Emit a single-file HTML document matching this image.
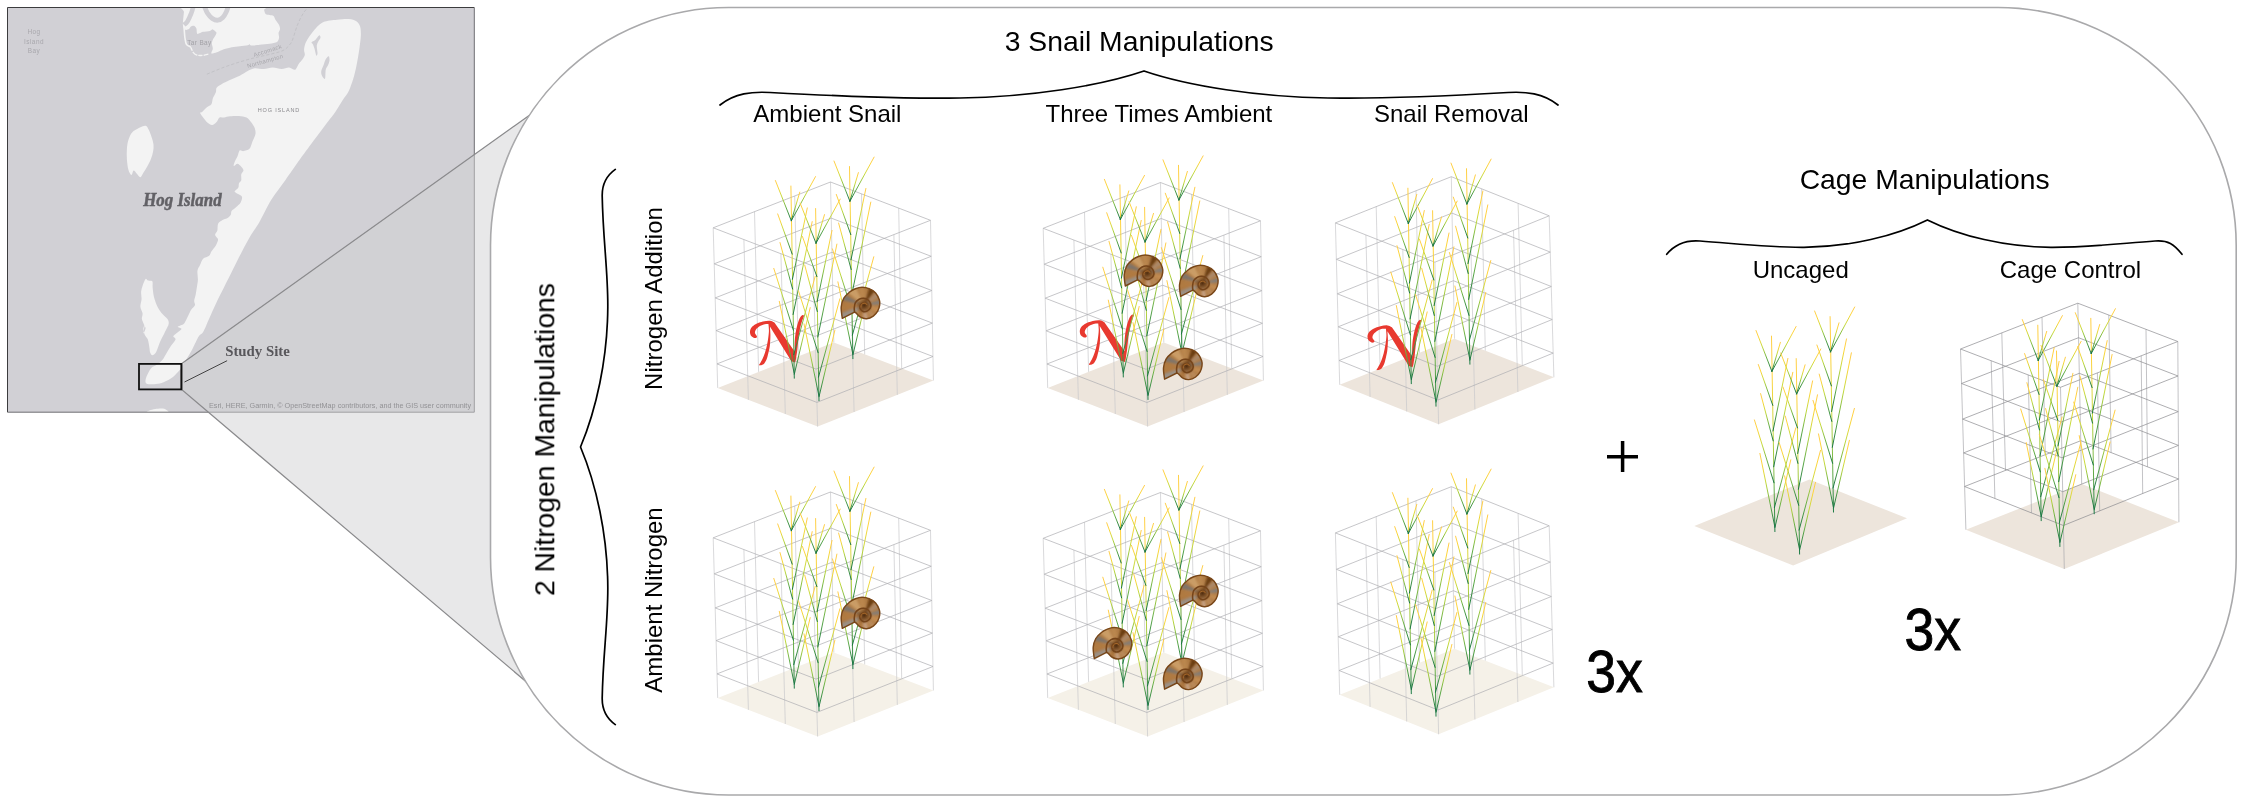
<!DOCTYPE html>
<html><head><meta charset="utf-8"><title>Experimental design</title>
<style>
html,body{margin:0;padding:0;background:#fff;}
body{width:2244px;height:803px;overflow:hidden;font-family:"Liberation Sans",sans-serif;}
svg{display:block;}
text{font-family:"Liberation Sans",sans-serif;fill:#000;}
.serif{font-family:"Liberation Serif",serif;}
</style></head><body>
<svg width="2244" height="803" viewBox="0 0 2244 803">
<defs>
<linearGradient id="gs" gradientUnits="userSpaceOnUse" x1="0" y1="0" x2="-3.4" y2="-195.5"><stop offset="0" stop-color="#1b7a45"/><stop offset="0.25" stop-color="#6fb347"/><stop offset="0.5" stop-color="#c4d83e"/><stop offset="0.8" stop-color="#ffd23d"/><stop offset="1" stop-color="#ffcf45"/></linearGradient>
<linearGradient id="gl0" gradientUnits="userSpaceOnUse" x1="-3" y1="-160.2" x2="-18.9" y2="-201.1"><stop offset="0" stop-color="#167343"/><stop offset="0.3" stop-color="#5fab46"/><stop offset="0.6" stop-color="#c3d93c"/><stop offset="0.85" stop-color="#ffd43a"/><stop offset="1" stop-color="#ffcc4a"/></linearGradient>
<linearGradient id="gl1" gradientUnits="userSpaceOnUse" x1="-3" y1="-160.2" x2="5.5" y2="-189.3"><stop offset="0" stop-color="#167343"/><stop offset="0.3" stop-color="#5fab46"/><stop offset="0.6" stop-color="#c3d93c"/><stop offset="0.85" stop-color="#ffd43a"/><stop offset="1" stop-color="#ffcc4a"/></linearGradient>
<linearGradient id="gl2" gradientUnits="userSpaceOnUse" x1="-3" y1="-160.2" x2="21.2" y2="-205.1"><stop offset="0" stop-color="#167343"/><stop offset="0.3" stop-color="#5fab46"/><stop offset="0.6" stop-color="#c3d93c"/><stop offset="0.85" stop-color="#ffd43a"/><stop offset="1" stop-color="#ffcc4a"/></linearGradient>
<linearGradient id="gl3" gradientUnits="userSpaceOnUse" x1="-2.1" y1="-126.2" x2="-16.6" y2="-167.1"><stop offset="0" stop-color="#167343"/><stop offset="0.3" stop-color="#5fab46"/><stop offset="0.6" stop-color="#c3d93c"/><stop offset="0.85" stop-color="#ffd43a"/><stop offset="1" stop-color="#ffcc4a"/></linearGradient>
<linearGradient id="gl4" gradientUnits="userSpaceOnUse" x1="-1.9" y1="-100.6" x2="13" y2="-173.2"><stop offset="0" stop-color="#167343"/><stop offset="0.3" stop-color="#5fab46"/><stop offset="0.6" stop-color="#c3d93c"/><stop offset="0.85" stop-color="#ffd43a"/><stop offset="1" stop-color="#ffcc4a"/></linearGradient>
<linearGradient id="gl5" gradientUnits="userSpaceOnUse" x1="-1.7" y1="-90.7" x2="-14.3" y2="-138"><stop offset="0" stop-color="#167343"/><stop offset="0.3" stop-color="#5fab46"/><stop offset="0.6" stop-color="#c3d93c"/><stop offset="0.85" stop-color="#ffd43a"/><stop offset="1" stop-color="#ffcc4a"/></linearGradient>
<linearGradient id="gl6" gradientUnits="userSpaceOnUse" x1="-1.2" y1="-64.8" x2="17.9" y2="-159.3"><stop offset="0" stop-color="#167343"/><stop offset="0.3" stop-color="#5fab46"/><stop offset="0.6" stop-color="#c3d93c"/><stop offset="0.85" stop-color="#ffd43a"/><stop offset="1" stop-color="#ffcc4a"/></linearGradient>
<linearGradient id="gl7" gradientUnits="userSpaceOnUse" x1="-0.9" y1="-48.8" x2="-20.5" y2="-111.7"><stop offset="0" stop-color="#167343"/><stop offset="0.3" stop-color="#5fab46"/><stop offset="0.6" stop-color="#c3d93c"/><stop offset="0.85" stop-color="#ffd43a"/><stop offset="1" stop-color="#ffcc4a"/></linearGradient>
<linearGradient id="gl8" gradientUnits="userSpaceOnUse" x1="-0.5" y1="-24" x2="20.9" y2="-103.7"><stop offset="0" stop-color="#167343"/><stop offset="0.3" stop-color="#5fab46"/><stop offset="0.6" stop-color="#c3d93c"/><stop offset="0.85" stop-color="#ffd43a"/><stop offset="1" stop-color="#ffcc4a"/></linearGradient>
<linearGradient id="gl9" gradientUnits="userSpaceOnUse" x1="-0.1" y1="-5" x2="-15" y2="-78.2"><stop offset="0" stop-color="#167343"/><stop offset="0.3" stop-color="#5fab46"/><stop offset="0.6" stop-color="#c3d93c"/><stop offset="0.85" stop-color="#ffd43a"/><stop offset="1" stop-color="#ffcc4a"/></linearGradient>
<linearGradient id="gl10" gradientUnits="userSpaceOnUse" x1="0" y1="-4" x2="15.9" y2="-71.8"><stop offset="0" stop-color="#167343"/><stop offset="0.3" stop-color="#5fab46"/><stop offset="0.6" stop-color="#c3d93c"/><stop offset="0.85" stop-color="#ffd43a"/><stop offset="1" stop-color="#ffcc4a"/></linearGradient>
<g id="plant" fill="none" stroke-width="1" stroke-linecap="round">
<path d="M0,0 L-3.4,-195.5" stroke="url(#gs)"/>
<path d="M-3,-160.2 L-18.9,-201.1" stroke="url(#gl0)"/>
<path d="M-3,-160.2 L5.5,-189.3" stroke="url(#gl1)"/>
<path d="M-3,-160.2 L21.2,-205.1" stroke="url(#gl2)"/>
<path d="M-2.1,-126.2 L-16.6,-167.1" stroke="url(#gl3)"/>
<path d="M-1.9,-100.6 L13,-173.2" stroke="url(#gl4)"/>
<path d="M-1.7,-90.7 L-14.3,-138" stroke="url(#gl5)"/>
<path d="M-1.2,-64.8 L17.9,-159.3" stroke="url(#gl6)"/>
<path d="M-0.9,-48.8 L-20.5,-111.7" stroke="url(#gl7)"/>
<path d="M-0.5,-24 L20.9,-103.7" stroke="url(#gl8)"/>
<path d="M-0.1,-5 L-15,-78.2" stroke="url(#gl9)"/>
<path d="M0,-4 L15.9,-71.8" stroke="url(#gl10)"/>
</g>
<clipPath id="snclip"><path d="M1.9,31.8 C1.72,29.93 0.55,23.95 0.8,20.6 C1.05,17.25 2.03,14.18 3.4,11.7 C4.77,9.22 7.07,7.27 9,5.7 C10.93,4.13 12.88,3.12 15,2.3 C17.12,1.48 19.33,0.8 21.7,0.8 C24.07,0.8 26.95,1.37 29.2,2.3 C31.45,3.23 33.58,4.58 35.2,6.4 C36.82,8.22 38.22,11.2 38.9,13.2 C39.58,15.2 39.55,16.53 39.3,18.4 C39.05,20.27 38.47,22.53 37.4,24.4 C36.33,26.27 34.77,28.3 32.9,29.6 C31.03,30.9 28.32,32.02 26.2,32.2 C24.08,32.38 21.93,31.63 20.2,30.7 C18.47,29.77 16.82,27.45 15.8,26.6 C14.78,25.75 14.38,25.77 14.1,25.6 Z"/></clipPath>
<radialGradient id="sng" gradientUnits="userSpaceOnUse" cx="23.8" cy="18.8" r="20"><stop offset="0" stop-color="#5b3310"/><stop offset="0.16" stop-color="#8a5a2a"/><stop offset="0.4" stop-color="#b5824c"/><stop offset="1" stop-color="#ad7840"/></radialGradient>
<radialGradient id="sng2" gradientUnits="userSpaceOnUse" cx="23.8" cy="18.8" r="9"><stop offset="0" stop-color="#4f2b0c" stop-opacity="0.95"/><stop offset="0.45" stop-color="#6b3f17" stop-opacity="0.6"/><stop offset="1" stop-color="#7a4a1c" stop-opacity="0"/></radialGradient>
<filter id="snblur" x="-50%" y="-50%" width="200%" height="200%"><feGaussianBlur stdDeviation="1.25"/></filter>
<symbol id="snail" width="40" height="34" viewBox="0 0 40 34" overflow="visible">
<path d="M1.9,31.8 C1.72,29.93 0.55,23.95 0.8,20.6 C1.05,17.25 2.03,14.18 3.4,11.7 C4.77,9.22 7.07,7.27 9,5.7 C10.93,4.13 12.88,3.12 15,2.3 C17.12,1.48 19.33,0.8 21.7,0.8 C24.07,0.8 26.95,1.37 29.2,2.3 C31.45,3.23 33.58,4.58 35.2,6.4 C36.82,8.22 38.22,11.2 38.9,13.2 C39.58,15.2 39.55,16.53 39.3,18.4 C39.05,20.27 38.47,22.53 37.4,24.4 C36.33,26.27 34.77,28.3 32.9,29.6 C31.03,30.9 28.32,32.02 26.2,32.2 C24.08,32.38 21.93,31.63 20.2,30.7 C18.47,29.77 16.82,27.45 15.8,26.6 C14.78,25.75 14.38,25.77 14.1,25.6 Z" fill="url(#sng)"/>
<g clip-path="url(#snclip)"><g filter="url(#snblur)" opacity="0.9"><polygon points="23.5,18.8 -5.73,12.05 -2.74,4.26" fill="#79736e"/><polygon points="23.5,18.8 -0.14,0.33 11.3,-8.61" fill="#cda06a"/><polygon points="23.5,18.8 14.23,-9.73 24.55,-11.18" fill="#bb8850"/><polygon points="23.5,18.8 32.27,-9.89 41.55,-5.16" fill="#63370e"/><polygon points="23.5,18.8 44.34,-2.78 49.48,3.8" fill="#a98a70"/><polygon points="23.5,18.8 51.87,9.03 53.46,17.23" fill="#7f7d7c"/><polygon points="23.5,18.8 53.21,22.98 49.99,32.88" fill="#c28c52"/><polygon points="23.5,18.8 46.48,38.08 38.5,44.78" fill="#b98a5c"/><polygon points="23.5,18.8 32.77,47.33 22.45,48.78" fill="#c6a388"/><polygon points="23.5,18.8 16.24,47.91 8.5,44.78" fill="#a7713a"/><polygon points="23.5,18.8 0.86,38.48 -4.87,28.57" fill="#98928c"/><polygon points="23.5,18.8 -5.73,25.55 -6.39,16.19" fill="#b07a42"/></g>
<circle cx="23.8" cy="18.8" r="9" fill="url(#sng2)"/></g>
<path d="M1.9,31.8 C1.72,29.93 0.55,23.95 0.8,20.6 C1.05,17.25 2.03,14.18 3.4,11.7 C4.77,9.22 7.07,7.27 9,5.7 C10.93,4.13 12.88,3.12 15,2.3 C17.12,1.48 19.33,0.8 21.7,0.8 C24.07,0.8 26.95,1.37 29.2,2.3 C31.45,3.23 33.58,4.58 35.2,6.4 C36.82,8.22 38.22,11.2 38.9,13.2 C39.58,15.2 39.55,16.53 39.3,18.4 C39.05,20.27 38.47,22.53 37.4,24.4 C36.33,26.27 34.77,28.3 32.9,29.6 C31.03,30.9 28.32,32.02 26.2,32.2 C24.08,32.38 21.93,31.63 20.2,30.7 C18.47,29.77 16.82,27.45 15.8,26.6 C14.78,25.75 14.38,25.77 14.1,25.6 Z" fill="none" stroke="#794719" stroke-width="1.45" stroke-linejoin="round"/>
<path d="M14.1,25.6 C14.07,24.9 13.75,22.97 13.9,21.4 C14.05,19.83 14.2,17.63 15,16.2 C15.8,14.77 17.33,13.53 18.7,12.8 C20.07,12.07 21.7,11.68 23.2,11.8 C24.7,11.92 26.52,12.53 27.7,13.5 C28.88,14.47 29.92,16.28 30.3,17.6 C30.68,18.92 30.55,20.27 30,21.4 C29.45,22.53 28.13,23.78 27,24.4 C25.87,25.02 24.33,25.35 23.2,25.1 C22.07,24.85 20.82,23.77 20.2,22.9 C19.58,22.03 19.37,20.83 19.5,19.9 C19.63,18.97 20.25,17.87 21,17.3 C21.75,16.73 23.12,16.42 24,16.5 C24.88,16.58 25.92,17.58 26.3,17.8" fill="none" stroke="#75441a" stroke-width="1.6" stroke-linecap="round"/>
<path d="M20.6,20.6 C20.2,18.6 21.5,17 23.6,16.7 C25.2,16.5 26.3,17.2 26.6,18.2" fill="none" stroke="#a5682a" stroke-width="1" stroke-linecap="round"/>
</symbol>
<symbol id="bigN" width="56" height="52" viewBox="0 0 56 52" overflow="visible"><path d="M3.98,22.91 C3.45,22.49 1.46,21.5 0.8,20.42 C0.13,19.34 -0.12,17.76 0,16.43 C0.12,15.11 0.5,13.7 1.49,12.45 C2.49,11.21 4.07,9.96 5.98,8.96 C7.89,7.97 10.62,7.02 12.95,6.47 C15.27,5.93 18.01,5.51 19.92,5.68 C21.83,5.84 23.66,7.17 24.4,7.47 L44.82,36.85 C44.79,35.69 44.54,32.7 44.62,29.88 C44.7,27.06 44.87,23.24 45.32,19.92 C45.77,16.6 46.56,12.78 47.31,9.96 C48.06,7.14 48.97,4.65 49.8,2.99 C50.63,1.33 51.88,0.5 52.29,0 L54.38,0.6 C53.95,1.66 52.59,4.42 51.79,6.97 C51,9.53 50.18,12.95 49.6,15.94 C49.02,18.92 48.69,21.75 48.31,24.9 C47.92,28.05 47.69,31.71 47.31,34.86 C46.93,38.01 46.4,41.7 46.02,43.82 C45.63,45.95 45.19,46.98 45.02,47.61 L41.33,46.31 L19.92,11.45 C20,12.87 20.42,16.85 20.42,19.92 C20.42,22.99 20.25,26.89 19.92,29.88 C19.59,32.87 19.01,35.36 18.43,37.85 C17.85,40.34 17.26,42.91 16.43,44.82 C15.6,46.73 14.61,48.36 13.45,49.3 C12.28,50.25 10.13,50.3 9.46,50.5 C9.41,50.35 9,50.05 9.16,49.6 C9.33,49.15 9.74,49.1 10.46,47.81 C11.17,46.51 12.5,44.16 13.45,41.83 C14.39,39.51 15.39,36.69 16.14,33.86 C16.88,31.04 17.46,27.89 17.93,24.9 C18.39,21.91 18.84,18.59 18.92,15.94 C19.01,13.28 18.51,10.13 18.43,8.96 C17.85,9 16.35,8.83 14.94,9.16 C13.53,9.5 11.45,10.08 9.96,10.96 C8.47,11.84 6.81,13.28 5.98,14.44 C5.15,15.6 4.81,16.77 4.98,17.93 C5.15,19.09 6.81,20.58 6.97,21.41 C7.14,22.24 6.47,22.66 5.98,22.91 C5.48,23.16 4.32,22.91 3.98,22.91 Z" fill="#e8392f"/></symbol>
</defs>
<rect width="2244" height="803" fill="#fff"/>
<clipPath id="mapclip"><rect x="7.5" y="7.5" width="466.8" height="404.7"/></clipPath>
<rect x="7.5" y="7.5" width="466.8" height="404.7" fill="#d1d0d5"/>
<g clip-path="url(#mapclip)">
<path d="M184.64,3.98 C174.04,5.05 184.17,9.43 183.94,11.95 C183.72,14.48 182.95,20.78 182.95,22.91 C182.95,25.03 183.55,26.96 183.94,27.89 C184.34,28.82 185.27,29.72 185.94,29.88 C186.6,30.04 188.26,29.54 188.92,29.08 C189.59,28.63 190.25,26.95 190.92,26.49 C191.58,26.04 193.17,25.44 193.9,25.7 C194.63,25.95 195.93,27.3 196.39,28.39 C196.86,29.48 196.53,33.4 197.39,33.86 C198.25,34.33 201.21,32.27 202.87,31.87 C204.53,31.47 208.51,31.21 209.84,30.88 C211.17,30.54 211.97,29.18 212.83,29.38 C213.69,29.58 215.92,31.64 216.31,32.37 C216.71,33.1 216.28,33.86 215.82,34.86 C215.35,35.86 213.36,38.65 212.83,39.84 C212.3,41.04 211.83,42.63 211.83,43.82 C211.83,45.02 212.9,47.52 212.83,48.8 C212.76,50.09 210.8,53.02 211.33,53.49 C211.87,53.95 215.15,52.85 216.81,52.29 C218.47,51.73 221.79,49.97 223.78,49.3 C225.78,48.64 229.63,47.71 231.75,47.31 C233.88,46.91 237.6,46.58 239.72,46.31 C241.85,46.05 246.36,45.58 247.69,45.32 C249.02,45.05 249.22,44.28 249.68,44.32 C250.15,44.36 249.85,45.55 251.18,45.62 C252.5,45.68 257.18,45.06 259.64,44.82 C262.1,44.58 267.28,44.2 269.6,43.82 C271.93,43.45 275.81,42.83 277.07,42.03 C278.33,41.24 278.86,39.07 279.06,37.85 C279.26,36.63 278.43,34.06 278.57,32.87 C278.7,31.67 279.99,29.95 280.06,28.88 C280.13,27.82 279.66,26.1 279.06,24.9 C278.47,23.71 276.31,21.12 275.58,19.92 C274.85,18.73 274.38,16.6 273.59,15.94 C272.79,15.27 270.66,15.21 269.6,14.94 C268.54,14.67 266.35,14.61 265.62,13.94 C264.89,13.28 264.42,11.29 264.12,9.96 C263.83,8.63 274.02,4.78 263.43,3.98 C252.83,3.19 195.24,2.92 184.64,3.98Z" fill="#f3f3f3"/>
<path d="M190.62,47.01 C191.08,47.94 192.36,51.25 193.41,52.59 C194.45,53.93 195.32,54.61 196.89,55.08 C198.47,55.54 200.96,55.54 202.87,55.38 C204.78,55.21 207.43,54.3 208.35,54.08" fill="none" stroke="#f3f3f3" stroke-width="1.3" stroke-dasharray="4 1.2 6 1"/>
<path d="M183.55,23.41 C183.66,24.49 184.01,27.47 184.24,29.88 C184.48,32.29 184.58,35.44 184.94,37.85 C185.31,40.26 185.49,42.8 186.43,44.32 C187.38,45.85 189.92,46.56 190.62,47.01" fill="none" stroke="#f3f3f3" stroke-width="1.6"/>
<path d="M193.41,5.98 C193.07,7.14 192.41,10.38 191.41,12.95 C190.42,15.52 188.68,19.42 187.43,21.41 C186.19,23.41 184.53,24.32 183.94,24.9" fill="none" stroke="#d1d0d5" stroke-width="4.6"/>
<path d="M203.86,4.98 C204.45,6.31 205.94,10.71 207.35,12.95 C208.76,15.19 210.59,17.21 212.33,18.43 C214.07,19.64 216.07,20.39 217.81,20.22 C219.55,20.05 221.38,18.81 222.79,17.43 C224.2,16.05 225.28,14.03 226.27,11.95 C227.27,9.88 228.35,6.14 228.76,4.98" fill="none" stroke="#d1d0d5" stroke-width="4.8"/>
<path d="M323.5,21.96 C326.64,20.72 333.14,20.16 336.95,19.72 C340.76,19.27 345.99,18.74 348.91,18.97 C351.82,19.19 354.7,20.09 356.38,21.21 C358.06,22.33 359.45,24.31 360.12,26.44 C360.79,28.57 360.98,32.05 360.87,35.41 C360.75,38.77 359.93,44.83 359.37,48.86 C358.81,52.9 357.91,58.28 357.13,62.32 C356.35,66.35 355.37,71.51 354.14,75.77 C352.91,80.03 350.59,87.13 348.91,90.72 C347.23,94.3 344.95,96.55 342.93,99.69 C340.91,102.83 337.92,108.06 335.46,111.64 C332.99,115.23 331.81,116.45 326.49,123.6 C321.17,130.75 306.15,150.87 300,159.33 C293.85,167.78 289.83,173.86 285.5,179.96 C281.17,186.05 275.1,193.62 271.15,199.99 C267.2,206.35 262.22,217.16 259.19,222.41 C256.17,227.65 253.55,230.6 250.97,234.95 C248.39,239.3 244.69,246.23 242,251.39 C239.31,256.55 235.72,263.95 233.03,269.33 C230.34,274.71 226.53,282.33 224.07,287.26 C221.6,292.2 218.83,297.5 216.59,302.21 C214.35,306.92 211.14,314.17 209.12,318.65 C207.1,323.14 204.71,329.44 203.14,332.11 C201.57,334.78 200.22,334 198.65,336.44 C197.09,338.89 194.47,345.04 192.68,348.4 C190.88,351.76 188.38,355.95 186.7,358.86 C185.01,361.78 182.81,365.81 181.46,367.83 C180.12,369.85 178.96,370.97 177.73,372.32 C176.49,373.66 174.81,375.57 173.24,376.8 C171.67,378.03 169.28,379.53 167.26,380.54 C165.25,381.55 162.03,382.97 159.79,383.53 C157.55,384.09 154.33,384.28 152.32,384.28 C150.3,384.28 147.35,384.2 146.34,383.53 C145.33,382.86 145.37,381.25 145.59,379.79 C145.81,378.33 146.94,375.61 147.83,373.81 C148.73,372.02 150.22,369.18 151.57,367.83 C152.91,366.49 155.23,365.96 156.8,364.84 C158.37,363.72 160.69,361.93 162.03,360.36 C163.38,358.79 164.54,356.4 165.77,354.38 C167,352.36 168.8,349.15 170.25,346.91 C171.71,344.66 175.04,341 175.49,339.43 C175.93,337.86 173.13,337.34 173.24,336.44 C173.36,335.55 175,334.57 176.23,333.45 C177.47,332.33 181.24,329.98 181.46,328.97 C181.69,327.96 177.5,327.4 177.73,326.73 C177.95,326.05 181.84,325.25 182.96,324.48 C184.08,323.72 184.42,322.97 185.2,321.64 C185.99,320.32 187.29,317.46 188.19,315.67 C189.09,313.87 190.17,311.26 191.18,309.69 C192.19,308.12 194.47,306.55 194.92,305.2 C195.37,303.86 194.06,302.29 194.17,300.72 C194.28,299.15 195.26,296.76 195.67,294.74 C196.07,292.72 196.52,289.51 196.86,287.26 C197.2,285.02 197.82,282.26 197.91,279.79 C198,277.32 197.12,273.06 197.46,270.82 C197.8,268.58 199.3,266.64 200.15,264.84 C201,263.05 201.79,260.21 203.14,258.86 C204.48,257.52 207.88,257 209.12,255.87 C210.35,254.75 210.35,252.96 211.36,251.39 C212.37,249.82 214.84,247.2 215.84,245.41 C216.85,243.62 218.2,241 218.09,239.43 C217.97,237.86 215.21,236.29 215.1,234.95 C214.99,233.6 216.89,232.14 217.34,230.46 C217.79,228.78 217.3,225.31 218.09,223.74 C218.87,222.17 221.23,220.8 222.57,220 C223.92,219.2 225.82,219.18 227.06,218.37 C228.29,217.57 230.12,215.75 230.79,214.63 C231.46,213.51 230.75,212.02 231.54,210.9 C232.32,209.78 234.68,208.39 236.02,207.16 C237.37,205.93 239.61,204.25 240.51,202.68 C241.41,201.11 242.45,198.04 242,196.7 C241.55,195.35 238.64,194.49 237.52,193.71 C236.4,192.92 234.42,192.36 234.53,191.46 C234.64,190.57 237.59,188.96 238.27,187.73 C238.94,186.49 238.57,184.36 239.01,183.24 C239.46,182.12 240.92,181.6 241.26,180.25 C241.59,178.91 240.92,175.73 241.26,174.28 C241.59,172.82 243.5,171.66 243.5,170.54 C243.5,169.42 242.15,167.81 241.26,166.8 C240.36,165.79 238.64,163.92 237.52,163.81 C236.4,163.7 234.23,166.28 233.78,166.05 C233.33,165.83 233.97,163.77 234.53,162.32 C235.09,160.86 236.73,158.13 237.52,156.34 C238.3,154.54 238.86,151.14 239.76,150.36 C240.66,149.57 242.04,151.33 243.5,151.11 C244.96,150.88 248.13,150.32 249.48,148.86 C250.82,147.41 251.57,143.63 252.47,141.39 C253.36,139.15 255.12,135.93 255.46,133.92 C255.79,131.9 255.38,129.73 254.71,127.94 C254.04,126.14 252.2,123.53 250.97,121.96 C249.74,120.39 248.28,118.37 246.49,117.47 C244.69,116.58 241.48,116.16 239.01,115.98 C236.55,115.8 232.29,116.05 230.04,116.28 C227.8,116.5 225.64,117.29 224.07,117.47 C222.5,117.65 220.7,116.8 219.58,117.47 C218.46,118.15 217.71,120.84 216.59,121.96 C215.47,123.08 213.45,124.84 212.11,124.95 C210.76,125.06 208.97,123.83 207.62,122.71 C206.28,121.58 204.26,118.93 203.14,117.47 C202.02,116.02 200.26,113.86 200.15,112.99 C200.04,112.12 201.41,112.52 202.42,111.64 C203.43,110.77 205.56,108.28 206.91,107.16 C208.25,106.04 210.49,105.52 211.39,104.17 C212.29,102.83 212.21,99.99 212.88,98.19 C213.56,96.4 215.31,93.78 215.87,92.21 C216.43,90.64 215.72,88.96 216.62,87.73 C217.52,86.49 219.95,85.11 221.85,83.99 C223.76,82.87 226.64,81.49 229.33,80.25 C232.02,79.02 237.1,77.12 239.79,75.77 C242.48,74.42 245.02,72.41 247.26,71.29 C249.51,70.16 252.27,68.63 254.74,68.3 C257.2,67.96 261.02,69.16 263.71,69.04 C266.4,68.93 269.99,67.55 272.68,67.55 C275.37,67.55 279.18,69.04 281.64,69.04 C284.11,69.04 287.1,67.44 289.12,67.55 C291.14,67.66 293.64,70.35 295.1,69.79 C296.55,69.23 297.71,65.38 298.83,63.81 C299.96,62.24 301.67,60.67 302.57,59.33 C303.47,57.98 304.59,56.3 304.81,54.84 C305.04,53.39 303.95,51.41 304.07,49.61 C304.18,47.82 304.66,45.01 305.56,42.88 C306.46,40.75 308.48,37.65 310.04,35.41 C311.61,33.17 314.01,29.96 316.02,27.94 C318.04,25.92 320.36,23.19 323.5,21.96Z" fill="#f3f3f3"/>
<path d="M311.54,42.14 C311.91,41.39 314.03,41.02 315.28,39.9 C316.52,38.77 318.14,35.78 319.01,35.41 C319.89,35.04 320.63,36.66 320.51,37.65 C320.38,38.65 318.89,40.02 318.27,41.39 C317.64,42.76 316.9,43.88 316.77,45.87 C316.65,47.87 317.59,51.73 317.52,53.35 C317.44,54.97 316.82,56.34 316.32,55.59 C315.82,54.84 315.08,50.73 314.53,48.86 C313.98,47 313.53,45.5 313.03,44.38 C312.54,43.26 311.17,42.88 311.54,42.14Z" fill="#d1d0d5"/><path d="M323.5,65.31 C324.25,63.31 324.87,60.82 325.74,59.33 C326.61,57.83 328.11,56.09 328.73,56.34 C329.35,56.59 329.6,59.33 329.48,60.82 C329.35,62.32 328.6,63.81 327.98,65.31 C327.36,66.8 326.24,67.55 325.74,69.79 C325.24,72.03 325.62,77.76 324.99,78.76 C324.37,79.76 322.63,77.02 322,75.77 C321.38,74.52 321.01,73.03 321.26,71.29 C321.5,69.54 322.75,67.3 323.5,65.31Z" fill="#d1d0d5"/>
<path d="M145.59,125.7 C147.21,125.94 147.58,127.56 148.58,129.43 C149.58,131.3 150.75,134.41 151.57,136.91 C152.39,139.4 153.26,141.89 153.51,144.38 C153.76,146.87 153.51,149.36 153.06,151.85 C152.62,154.34 151.82,156.84 150.82,159.33 C149.83,161.82 148.33,164.56 147.09,166.8 C145.84,169.04 144.47,171.04 143.35,172.78 C142.23,174.52 141.48,177.14 140.36,177.26 C139.24,177.39 137.74,174.65 136.62,173.53 C135.5,172.41 134.5,170.29 133.63,170.54 C132.76,170.79 132.26,175.15 131.39,175.02 C130.52,174.9 129.15,172.41 128.4,169.79 C127.65,167.17 127.15,162.82 126.91,159.33 C126.66,155.84 126.66,152.1 126.91,148.86 C127.15,145.63 127.53,142.64 128.4,139.9 C129.27,137.15 130.39,134.41 132.14,132.42 C133.88,130.43 136.62,129.06 138.86,127.94 C141.11,126.82 143.97,125.45 145.59,125.7Z" fill="#f3f3f3"/>
<path d="M145.59,279.04 C146.38,278.26 146.82,280.2 147.83,280.54 C148.84,280.87 151.6,280.28 152.32,281.29 C153.03,282.29 152.39,285.02 152.62,287.26 C152.84,289.51 153.18,293.54 153.81,296.23 C154.44,298.92 155.68,302.74 156.8,305.2 C157.92,307.67 159.72,310.66 161.29,312.68 C162.86,314.69 166.14,317.09 167.26,318.65 C168.39,320.22 168.87,321.35 168.76,323.14 C168.65,324.93 166.63,330.19 166.52,330.61 C166.41,331.04 168.35,325.55 168.01,325.98 C167.68,326.41 165.51,330.99 164.28,333.45 C163.04,335.92 161.02,339.62 159.79,342.42 C158.56,345.22 157.17,350.23 156.05,352.14 C154.93,354.04 153.21,355.13 152.32,355.13 C151.42,355.13 150.52,353.37 150.07,352.14 C149.63,350.9 149.66,348.81 149.33,346.91 C148.99,345 148.51,341.23 147.83,339.43 C147.16,337.64 145.52,336.52 144.84,334.95 C144.17,333.38 143.35,330.54 143.35,328.97 C143.35,327.4 144.84,323.79 144.84,324.48 C144.84,325.18 143.24,333.02 143.35,333.6 C143.46,334.19 145.48,329.72 145.59,328.37 C145.7,327.03 144.66,326.09 144.1,324.63 C143.54,323.18 142.08,320.34 141.85,318.65 C141.63,316.97 142.83,315.22 142.6,313.42 C142.38,311.63 140.52,308.83 140.36,306.7 C140.2,304.57 141.44,301.46 141.55,299.22 C141.67,296.98 140.95,293.77 141.11,291.75 C141.26,289.73 141.93,287.68 142.6,285.77 C143.27,283.86 144.81,279.83 145.59,279.04Z" fill="#f3f3f3"/>
<path d="M144.84,415.67 C140.86,415.12 145.59,413.25 146.34,412.38 C147.09,411.5 147.83,411.01 149.33,410.43 C150.82,409.86 153.06,409.26 155.31,408.94 C157.55,408.61 160.79,408.24 162.78,408.49 C164.77,408.74 166.22,409.74 167.26,410.43 C168.31,411.13 168.56,411.8 169.06,412.68 C169.56,413.55 174.29,415.17 170.25,415.67 C166.22,416.16 148.83,416.21 144.84,415.67Z" fill="#f3f3f3"/>
<path d="M206.85,74.2 C209.67,73.06 218.31,69.37 223.78,67.33 C229.26,65.29 234.58,63.55 239.72,61.95 C244.87,60.36 249.68,59.03 254.66,57.77 C259.64,56.51 265.45,55.38 269.6,54.38 C273.75,53.39 276.91,52.69 279.56,51.79 C282.22,50.9 283.88,50.17 285.54,49 C287.2,47.84 288.36,46.35 289.52,44.82 C290.68,43.29 291.18,43.16 292.51,39.84 C293.84,36.52 295.66,29.38 297.49,24.9 C299.32,20.42 301.47,16.1 303.47,12.95 C305.46,9.79 308.45,7.14 309.44,5.98" fill="none" stroke="#b6b5ba" stroke-width="0.55" stroke-dasharray="3.2 2"/>
<g opacity="0.999">
<g font-size="6.4" text-anchor="middle" letter-spacing="0.5"><text x="34" y="34.3" style="fill:#a9a8ad">Hog</text><text x="34" y="43.8" style="fill:#a9a8ad">Island</text><text x="34" y="53.3" style="fill:#a9a8ad">Bay</text></g>
<text x="199.2" y="44.5" font-size="6.4" text-anchor="middle" textLength="24" lengthAdjust="spacing" style="fill:#a3a2a7">Tar Bay</text>
<text x="278.5" y="112.4" font-size="5.5" text-anchor="middle" textLength="41.5" lengthAdjust="spacing" style="fill:#8a898d">HOG ISLAND</text>
<text transform="translate(268.1,52.6) rotate(-18)" font-size="5.8" text-anchor="middle" textLength="29" lengthAdjust="spacing" style="fill:#a9a8ad">Accomack</text>
<text transform="translate(265.6,63) rotate(-16)" font-size="5.8" text-anchor="middle" textLength="37" lengthAdjust="spacing" style="fill:#a9a8ad">Northampton</text>
<text x="209" y="407.8" font-size="8" textLength="262" lengthAdjust="spacingAndGlyphs" style="fill:#505054">Esri, HERE, Garmin, © OpenStreetMap contributors, and the GIS user community</text>
<text class="serif" transform="translate(143.2,206.3) scale(1,1.08)" font-size="16.9" font-weight="bold" font-style="italic" style="fill:#626166;stroke:#626166;stroke-width:0.45">Hog Island</text>
</g></g>
<path d="M7.5,412.2 V7.5 H474.3" fill="none" stroke="#3c3c3e" stroke-width="1"/>
<path d="M7.5,412.2 H474.3 V7.5" fill="none" stroke="#6e6e72" stroke-width="1"/>
<polygon points="182.2,363.3 560,93.4 560,710.5 182.2,390" fill="#d1d1d4" fill-opacity="0.5" stroke="#8a8a8c" stroke-width="1.2"/>
<g opacity="0.999"><text class="serif" x="225.2" y="355.9" font-size="14.8" font-weight="bold" style="fill:#58575b">Study Site</text></g>
<path d="M227.1,360.7 L184.5,382" stroke="#333" stroke-width="0.9" fill="none"/>
<rect x="139" y="363.9" width="42.3" height="25.5" fill="none" stroke="#111" stroke-width="1.8"/>
<rect x="490.5" y="7.5" width="1745.7" height="787.5" rx="238" ry="238" fill="#fff" stroke="#a9a9ab" stroke-width="1.6"/>
<g opacity="0.999">
<g font-size="28.3">
<text x="1139.2" y="51.3" text-anchor="middle">3 Snail Manipulations</text>
<text x="1924.7" y="189.4" text-anchor="middle">Cage Manipulations</text>
<text transform="translate(554.3,439.5) rotate(-90)" text-anchor="middle">2 Nitrogen Manipulations</text>
</g>
<g font-size="24">
<text x="827.4" y="121.5" text-anchor="middle">Ambient Snail</text>
<text x="1158.9" y="121.5" text-anchor="middle">Three Times Ambient</text>
<text x="1451.3" y="121.5" text-anchor="middle">Snail Removal</text>
<text x="1800.7" y="277.8" text-anchor="middle">Uncaged</text>
<text x="2070.5" y="277.8" text-anchor="middle">Cage Control</text>
<text transform="translate(661.8,298.5) rotate(-90)" text-anchor="middle">Nitrogen Addition</text>
<text transform="translate(661.8,600) rotate(-90)" text-anchor="middle">Ambient Nitrogen</text>
</g>
<text transform="translate(1586.3,691.7) scale(0.9035,1)" font-size="59.3" stroke="#000" stroke-width="0.9">3x</text>
<text transform="translate(1904.4,649.8) scale(0.9035,1)" font-size="59.3" stroke="#000" stroke-width="0.9">3x</text>
</g>
<path d="M1607,456.7 H1638 M1622.6,441.1 V471.9" stroke="#000" stroke-width="3.5" fill="none"/>
<g fill="none" stroke="#000" stroke-width="1.7" stroke-linecap="round">
<path d="M720,105 C735,93 752,91.5 770,92.5 C840,96 900,99 960,98 C1030,97 1100,86 1144,71 C1188,86 1258,97 1328,98 C1388,99 1448,96 1508,92.5 C1526,91.5 1543,93 1558,105"/>
<path d="M1666.7,254.3 C1675,244 1687,240 1700,241 C1740,244 1770,247.5 1804,247.3 C1850,247 1895,236 1927.4,219.9 C1960,236 2005,247 2051,247.3 C2085,247.5 2115,244 2155,241 C2168,240 2174,244 2182,254.3"/>
<path d="M615.3,169.4 C606,176 602,185 602.2,196 C603,240 608,270 607.8,307 C607.5,360 596,410 580.5,447 C596,484 607.5,534 607.8,587 C608,624 603,654 602.2,698 C602,709 606,718 615.3,724.6"/>
</g>
<polygon points="717.7,387.9 833.8,342.5 933.4,380.5 817.6,426.5" fill="#ede5dc"/>
<g transform="translate(713.2,227.8)" fill="none" stroke-width="0.7"><path d="M0,0 L4.5,160.1 M117.3,-45.8 L120.6,114.7 M217.3,-7.5 L220.2,152.7 M100,38.3 L104.4,198.7 M30.7,11.8 L35.2,172 M67.7,25.9 L72.1,186.2 M136.9,23.9 L140.9,184.2 M180.7,6.8 L184.1,167.1 M41.3,-16.1 L45.4,144.1 M81.5,-31.8 L85.2,128.5 M148.3,-33.9 L151.5,126.5 M185.5,-19.7 L188.5,140.6" stroke="#c8c8cc"/><path d="M0,0 L117.3,-45.8 L217.3,-7.5 L100,38.3Z M1,36 L118,-9.7 L218,28.5 L101,74.4Z M2,70.1 L118.7,24.5 L218.6,62.7 L101.9,108.6Z M2.9,102.8 L119.4,57.2 L219.2,95.3 L102.8,141.3Z M3.8,136.1 L120.1,90.6 L219.8,128.7 L103.7,174.6Z" stroke="#aeaeb2"/></g>
<use href="#bigN" x="750" y="315"/>
<use href="#plant" transform="translate(852.9,358.7) scale(1,0.983)"/><use href="#plant" transform="translate(794.3,378.2) scale(1,0.983)"/><use href="#plant" transform="translate(819,400.7) scale(1,0.983)"/>
<use href="#snail" x="840.4" y="286.5"/>
<polygon points="1047.7,387.9 1163.8,342.5 1263.4,380.5 1147.6,426.5" fill="#ede5dc"/>
<g transform="translate(1043.2,228.3)" fill="none" stroke-width="0.7"><path d="M0,0 L4.5,159.6 M117.3,-45.8 L120.6,114.2 M217.3,-7.5 L220.2,152.2 M100,38.3 L104.4,198.2 M30.7,11.8 L35.2,171.5 M67.7,25.9 L72.1,185.7 M136.9,23.9 L140.9,183.7 M180.7,6.8 L184.1,166.6 M41.3,-16.1 L45.4,143.6 M81.5,-31.8 L85.2,128 M148.3,-33.9 L151.5,126 M185.5,-19.7 L188.5,140.1" stroke="#c8c8cc"/><path d="M0,0 L117.3,-45.8 L217.3,-7.5 L100,38.3Z M1,35.9 L118,-9.8 L218,28.4 L101,74.3Z M2,69.9 L118.7,24.3 L218.6,62.4 L101.9,108.3Z M2.9,102.5 L119.4,56.9 L219.2,95 L102.8,141Z M3.8,135.7 L120.1,90.2 L219.8,128.2 L103.7,174.2Z" stroke="#aeaeb2"/></g>
<use href="#bigN" x="1079.8" y="314.5"/>
<use href="#plant" transform="translate(1181.9,357.5) scale(1,0.983)"/><use href="#plant" transform="translate(1123.3,377) scale(1,0.983)"/><use href="#plant" transform="translate(1148,399.5) scale(1,0.983)"/>
<use href="#snail" x="1123.4" y="254.2"/>
<use href="#snail" x="1178.7" y="264.5"/>
<use href="#snail" x="1162.7" y="347.4"/>
<polygon points="1339.7,384.8 1454.5,338.7 1553.9,377.3 1438.6,424.3" fill="#ede5dc"/>
<g transform="translate(1335.4,222.9)" fill="none" stroke-width="0.7"><path d="M0,0 L4.3,161.9 M115.9,-46.2 L119.1,115.8 M213.8,-7.1 L218.5,154.4 M99.5,39.3 L103.2,201.4 M30.5,12.1 L34.7,174 M67.4,26.6 L71.3,188.6 M135.5,24.7 L139.5,186.6 M178.1,7.4 L182.5,169.1 M40.8,-16.3 L44.7,145.7 M80.6,-32.1 L84.1,129.9 M146.2,-34.1 L149.9,127.8 M182.7,-19.5 L186.9,142.1" stroke="#c8c8cc"/><path d="M0,0 L115.9,-46.2 L213.8,-7.1 L99.5,39.3Z M1,36.4 L116.6,-9.8 L214.9,29.2 L100.3,75.8Z M1.9,70.9 L117.3,24.8 L215.9,63.6 L101.1,110.3Z M2.8,103.9 L118,57.8 L216.8,96.6 L101.9,143.4Z M3.7,137.6 L118.6,91.5 L217.8,130.2 L102.6,177.1Z" stroke="#aeaeb2"/></g>
<use href="#bigN" x="1367.5" y="319.7"/>
<use href="#plant" x="1469.9" y="364.2"/><use href="#plant" x="1411.3" y="383.7"/><use href="#plant" x="1436" y="406.2"/>
<polygon points="717.7,697.9 833.8,652.5 933.4,690.5 817.6,736.5" fill="#f5f1e8"/>
<g transform="translate(713.2,537.8)" fill="none" stroke-width="0.7"><path d="M0,0 L4.5,160.1 M117.3,-45.8 L120.6,114.7 M217.3,-7.5 L220.2,152.7 M100,38.3 L104.4,198.7 M30.7,11.8 L35.2,172 M67.7,25.9 L72.1,186.2 M136.9,23.9 L140.9,184.2 M180.7,6.8 L184.1,167.1 M41.3,-16.1 L45.4,144.1 M81.5,-31.8 L85.2,128.5 M148.3,-33.9 L151.5,126.5 M185.5,-19.7 L188.5,140.6" stroke="#c8c8cc"/><path d="M0,0 L117.3,-45.8 L217.3,-7.5 L100,38.3Z M1,36 L118,-9.7 L218,28.5 L101,74.4Z M2,70.1 L118.7,24.5 L218.6,62.7 L101.9,108.6Z M2.9,102.8 L119.4,57.2 L219.2,95.3 L102.8,141.3Z M3.8,136.1 L120.1,90.6 L219.8,128.7 L103.7,174.6Z" stroke="#aeaeb2"/></g>
<use href="#plant" transform="translate(852.9,668.7) scale(1,0.983)"/><use href="#plant" transform="translate(794.3,688.2) scale(1,0.983)"/><use href="#plant" transform="translate(819,710.7) scale(1,0.983)"/>
<use href="#snail" x="840.4" y="596.5"/>
<polygon points="1047.7,697.9 1163.8,652.5 1263.4,690.5 1147.6,736.5" fill="#f5f1e8"/>
<g transform="translate(1043.2,538.3)" fill="none" stroke-width="0.7"><path d="M0,0 L4.5,159.6 M117.3,-45.8 L120.6,114.2 M217.3,-7.5 L220.2,152.2 M100,38.3 L104.4,198.2 M30.7,11.8 L35.2,171.5 M67.7,25.9 L72.1,185.7 M136.9,23.9 L140.9,183.7 M180.7,6.8 L184.1,166.6 M41.3,-16.1 L45.4,143.6 M81.5,-31.8 L85.2,128 M148.3,-33.9 L151.5,126 M185.5,-19.7 L188.5,140.1" stroke="#c8c8cc"/><path d="M0,0 L117.3,-45.8 L217.3,-7.5 L100,38.3Z M1,35.9 L118,-9.8 L218,28.4 L101,74.3Z M2,69.9 L118.7,24.3 L218.6,62.4 L101.9,108.3Z M2.9,102.5 L119.4,56.9 L219.2,95 L102.8,141Z M3.8,135.7 L120.1,90.2 L219.8,128.2 L103.7,174.2Z" stroke="#aeaeb2"/></g>
<use href="#plant" transform="translate(1181.9,667.5) scale(1,0.983)"/><use href="#plant" transform="translate(1123.3,687) scale(1,0.983)"/><use href="#plant" transform="translate(1148,709.5) scale(1,0.983)"/>
<use href="#snail" x="1092.4" y="626.8"/>
<use href="#snail" x="1178.7" y="574.5"/>
<use href="#snail" x="1162.7" y="657.4"/>
<polygon points="1339.7,694.8 1454.5,648.7 1553.9,687.3 1438.6,734.3" fill="#f5f1e8"/>
<g transform="translate(1335.4,532.9)" fill="none" stroke-width="0.7"><path d="M0,0 L4.3,161.9 M115.9,-46.2 L119.1,115.8 M213.8,-7.1 L218.5,154.4 M99.5,39.3 L103.2,201.4 M30.5,12.1 L34.7,174 M67.4,26.6 L71.3,188.6 M135.5,24.7 L139.5,186.6 M178.1,7.4 L182.5,169.1 M40.8,-16.3 L44.7,145.7 M80.6,-32.1 L84.1,129.9 M146.2,-34.1 L149.9,127.8 M182.7,-19.5 L186.9,142.1" stroke="#c8c8cc"/><path d="M0,0 L115.9,-46.2 L213.8,-7.1 L99.5,39.3Z M1,36.4 L116.6,-9.7 L214.9,29.2 L100.3,75.8Z M1.9,70.9 L117.3,24.8 L215.9,63.6 L101.1,110.3Z M2.8,103.9 L118,57.8 L216.8,96.6 L101.9,143.4Z M3.7,137.6 L118.6,91.5 L217.8,130.2 L102.6,177.1Z" stroke="#aeaeb2"/></g>
<use href="#plant" x="1469.9" y="674.2"/><use href="#plant" x="1411.3" y="693.7"/><use href="#plant" x="1436" y="716.2"/>
<polygon points="1694.3,526 1809.5,479.6 1907,518.2 1793.2,565.5" fill="#ede5dc"/>
<use href="#plant" x="1833.5" y="512.1"/><use href="#plant" x="1774.9" y="531.6"/><use href="#plant" x="1799.6" y="554.1"/>
<polygon points="1965.9,529.7 2081.7,483.9 2178.9,522.2 2064.3,568.9" fill="#ede5dc"/>
<g transform="translate(1960.5,349)" fill="none" stroke-width="0.7"><path d="M0,0 L5.4,180.7 M117.3,-45.8 L121.2,134.9 M217.3,-7.5 L218.4,173.2 M100,38.3 L103.8,219.9 M30.7,11.8 L34.4,149.5 M67.7,25.9 L71,163.9 M136.9,23.9 L139.2,161.9 M180.7,6.8 L182.2,144.5 M41.3,-16.1 L45,121.4 M81.5,-31.8 L84.8,105.7 M148.3,-33.9 L150.6,103.6 M185.5,-19.7 L187,117.8" stroke="#a9a9ad"/><path d="M0,0 L117.3,-45.8 L217.3,-7.5 L100,38.3Z M1,34.5 L118,-11.3 L217.5,27 L100.7,73Z M2.1,70.1 L118.8,24.3 L217.7,62.6 L101.5,108.8Z M3.1,103.9 L119.5,58.1 L217.9,96.4 L102.2,142.7Z M4.1,137.5 L120.3,91.7 L218.1,130 L102.9,176.5Z" stroke="#8b8b8f"/></g>
<use href="#plant" x="2094.2" y="513.8"/><use href="#plant" x="2041.2" y="520.7"/><use href="#plant" x="2059.9" y="546.5"/>
</svg></body></html>
